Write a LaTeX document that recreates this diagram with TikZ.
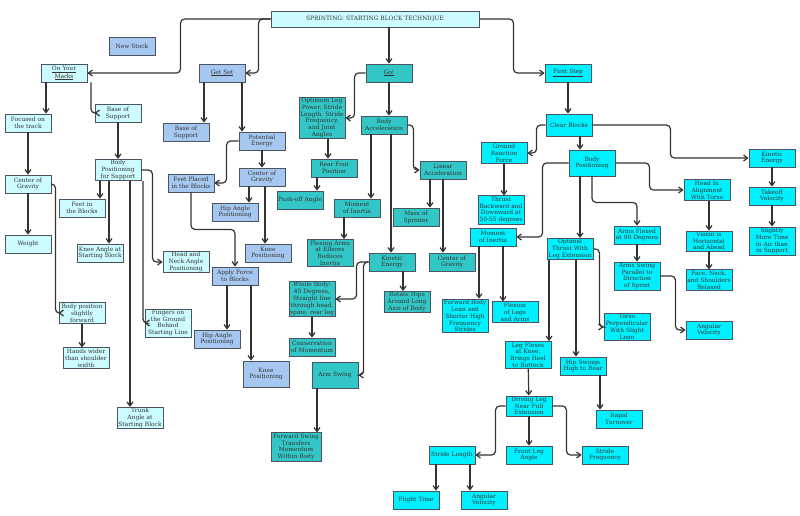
\documentclass[tikz,border=0pt]{standalone}
\usepackage{fontspec}
\setmainfont{DejaVu Serif}
\usetikzlibrary{arrows.meta}
\usetikzlibrary{positioning}
\definecolor{omk}{HTML}{CCFCFF}
\definecolor{gset}{HTML}{A6C8F0}
\definecolor{gogo}{HTML}{33C6C6}
\definecolor{fst}{HTML}{00F0FF}
\definecolor{edge}{HTML}{4A5560}
\hyphenpenalty=10000
\exhyphenpenalty=10000
\begin{document}
\begin{tikzpicture}[x=1pt,y=-1pt]
\tikzset{box/.style={rectangle,draw=edge,line width=0.9pt,align=center,text width=44pt,inner sep=1pt,minimum height=18pt,font=\fontsize{5.9}{6.8}\selectfont,text=black!80},
omkbox/.style={box,fill=omk},gsetbox/.style={box,fill=gset},gobox/.style={box,fill=gogo},fstbox/.style={box,fill=fst},
link/.style={draw=black!80,line width=1.2pt,rounded corners=4pt,-{Straight Barb[length=4pt,width=6pt]}}}
\useasboundingbox (0,0) rectangle (800,515);
\node[omkbox,text width=206pt,minimum height=16pt](title) at (375,19){SPRINTING: STARTING BLOCK TECHNIQUE};
\node[gsetbox](stock) at (132,46){New Stock};
% on your marks
\node[omkbox](oym) at (64,73){\underline{On Your}\\[1pt]\underline{Marks}};
\node[omkbox](focus) at (28,123){Focused on the track};
\node[omkbox](base) at (118,113){Base of Support};
\node[omkbox](cog) at (28,184){Center of Gravity};
\node[omkbox](bsup) at (118,170){Body Positioning for Support};
\node[omkbox](feet) at (82,208){Feet in the Blocks};
\node[omkbox](weight) at (28,244){Weight};
\node[omkbox](knee) at (100,253){Knee Angle at Starting Block};
\node[omkbox](head) at (186,262){Head and Neck Angle Positioning};
\node[omkbox](bpos) at (82,313){Body position slightly forward};
\node[omkbox](hands) at (86,358){Hands wider than shoulder width};
\node[omkbox](fing) at (168,323){Fingers on the Ground Behind Starting Line};
\node[omkbox](trunk) at (140,418){Trunk Angle at Starting Block};
% get set
\node[gsetbox](gs) at (222,73){\underline{Get Set}};
\node[gsetbox](gbase) at (186,132){Base of Support};
\node[gsetbox](pot) at (262,141){Potential Energy};
\node[gsetbox](fplace) at (191,183){Feet Placed in the Blocks};
\node[gsetbox](gcog) at (262,177){Center of Gravity};
\node[gsetbox](ghip) at (235,212){Hip Angle Positioning};
\node[gsetbox](gknee) at (268,253){Knee Positioning};
\node[gsetbox](apply) at (235,276){Apply Force to Blocks};
\node[gsetbox](ahip) at (217,339){Hip Angle Positioning};
\node[gsetbox,minimum height=26pt](aknee) at (266,374){Knee Positioning};
% go
\node[gobox](go) at (389,73){\underline{Go!}};
\node[gobox](opt) at (322,118){Optimum Leg Power, Stride Length, Stride Frequency, and Joint Angles};
\node[gobox](bacc) at (384,125){Body Acceleration};
\node[gobox](rear) at (334,168){Rear Foot Position};
\node[gobox](push) at (300,200){Push-off Angle};
\node[gobox](lin) at (443,170){Linear Acceleration};
\node[gobox](moi) at (357,208){Moment of Inertia};
\node[gobox](mass) at (416,217){Mass of Sprinter};
\node[gobox](flex) at (330,253){Flexing Arms at Elbows Reduces Inertia};
\node[gobox](ke) at (392,262){Kinetic Energy};
\node[gobox](lcog) at (452,262){Center of Gravity};
\node[gobox](whole) at (312,299){Whole Body: 45 Degrees, Straight line through head, spine, rear leg};
\node[gobox](rot) at (407,302){Rotate Hips Around Long Axis of Body};
\node[gobox](cons) at (312,347){Conservation of Momentum};
\node[gobox,minimum height=26pt](arm) at (335,375){Arm Swing};
\node[gobox,text width=48pt](fwd) at (296,447){Forward Swing Transfers Momentum Within Body};
% first step
\node[fstbox](fs) at (568,73){\underline{First Step}};
\node[fstbox,minimum height=22pt](clear) at (569,125){Clear Blocks};
\node[fstbox](grf) at (504,153){Ground Reaction Force};
\node[fstbox,minimum height=26pt](bp) at (592,163){Body Positioning};
\node[fstbox](fke) at (772,158){Kinetic Energy};
\node[fstbox](thr) at (501,210){Thrust Backward and Downward at 50-55 degrees};
\node[fstbox](hal) at (707,190){Head In Alignment With Torso};
\node[fstbox](tov) at (772,196){Takeoff Velocity};
\node[fstbox](fmoi) at (493,237){Moment of Inertia};
\node[fstbox](othr) at (570,249){Optimal Thrust With Leg Extension};
\node[fstbox](a90) at (637,235){Arms Flexed at 90 Degrees};
\node[fstbox](vis) at (709,241){Vision is Horizontal and Ahead};
\node[fstbox](air) at (772,241){Slightly More Time in Air than in Support};
\node[fstbox](aswing) at (637,276){Arms Swing Parallel to Direction of Sprint};
\node[fstbox](face) at (709,280){Face, Neck, and Shoulders Relaxed};
\node[fstbox](lean) at (465,316){Forward Body Lean and Shorter High Frequency Strides};
\node[fstbox](flx) at (515,312){Flexion of Legs and Arms};
\node[fstbox](torso) at (627,327){Torso Perpendicular With Slight Lean};
\node[fstbox](av) at (709,330){Angular Velocity};
\node[fstbox](legf) at (528,355){Leg Flexes at Knee, Brings Heel to Buttock};
\node[fstbox](hip) at (583,366){Hip Swings High to Rear};
\node[fstbox](drive) at (529,406){Driving Leg Near Full Extension};
\node[fstbox](rapid) at (619,419){Rapid Turnover};
\node[fstbox](slen) at (452,455){Stride Length};
\node[fstbox](front) at (529,455){Front Leg Angle};
\node[fstbox](sfreq) at (605,455){Stride Frequency};
\node[fstbox](flight) at (416,500){Flight Time};
\node[fstbox](sav) at (484,500){Angular Velocity};
% links from the title
\draw[link](title.west) -- ++(-90,0) |- (oym.east);
\draw[link](title.west) -- ++(-12,0) |- (gs.east);
\draw[link](title.south -| go) -- (go);
\draw[link](title.east) -- ++(34,0) |- (fs.west);
% on your marks links
\draw[link](oym.south -| 46,0) -- (focus.north -| 46,0);
\draw[link](oym.south -| 91,0) |- (base.west);
\draw[link](focus) -- (cog);
\draw[link](cog) -- (weight);
\draw[link](cog.east) -- ++(4,0) |- (bpos.west);
\draw[link](bpos) -- (hands.north -| bpos);
\draw[link](base) -- (bsup);
\draw[link](bsup.south -| 100,0) -- (feet.north -| 100,0);
\draw[link](bsup.south -| 109,0) -- (knee.north -| 109,0);
\draw[link](bsup.south -| 130,0) -- (trunk.north -| 130,0);
\draw[link](bsup.south -| 143,0) |- (fing.west);
\draw[link](bsup.east) -- ++(11,0) |- (head.west);
% get set links
\draw[link](gs.south -| 204,0) -- (gbase.north -| 204,0);
\draw[link](gs.south -| 242,0) -- (pot.north -| 242,0);
\draw[link](pot.west) -- ++(-12,0) |- (fplace.east);
\draw[link](pot) -- (gcog);
\draw[link](gcog.south -| 249,0) -- (ghip.north -| 249,0);
\draw[link](gcog.south -| 265,0) -- (gknee.north -| 265,0);
\draw[link](fplace.south) -- ++(0,37) -| (apply.north);
\draw[link](apply.south -| 227,0) -- (ahip.north -| 227,0);
\draw[link](apply.south -| 251,0) -- (aknee.north -| 251,0);
% go links
\draw[link](go.west) -- ++(-11,0) |- (opt.east);
\draw[link](go) -- (bacc.north -| go);
\draw[link](opt.south -| 328,0) -- (rear.north -| 328,0);
\draw[link](rear.south -| 317,0) -- (push.north -| 317,0);
\draw[link](bacc.south -| 371,0) -- (moi.north -| 371,0);
\draw[link](bacc.south -| 391,0) -- (ke.north -| 391,0);
\draw[link](bacc.east) -- ++(6,0) |- (lin.west);
\draw[link](lin.south -| 430,0) -- (mass.north -| 430,0);
\draw[link](lin.south -| 443,0) -- (lcog.north -| 443,0);
\draw[link](moi.south -| 344,0) -- (flex.north -| 344,0);
\draw[link](ke.west) -- ++(-12,0) |- (whole.east);
\draw[link](ke.west) -- ++(-5,0) |- (arm.east);
\draw[link](ke.south -| 403,0) -- (rot.north -| 403,0);
\draw[link](whole) -- (cons);
\draw[link](arm.south -| 317,0) -- (fwd.north -| 317,0);
% first step links
\draw[link](fs) -- (clear.north -| fs);
\draw[link](clear.west) -- ++(-9,0) |- (grf.east);
\draw[link](clear.south -| 580,0) -- (bp.north -| 580,0);
\draw[link](clear.east) -- ++(78,0) |- (fke.west);
\draw[link](fke) -- (tov);
\draw[link](tov) -- (air);
\draw[link](grf) -- (thr.north -| grf);
\draw[link](bp.west) -- ++(-26,0) |- (fmoi.east);
\draw[link](bp.south -| 580,0) -- (othr.north -| 580,0);
\draw[link](bp.south -| 592,0) |- ++(45,26) -- (a90.north);
\draw[link](bp.east) -- ++(34,0) |- (hal.west);
\draw[link](hal.south -| vis) -- (vis);
\draw[link](vis) -- (face);
\draw[link](a90) -- (aswing);
\draw[link](aswing.east) -- ++(15,0) |- (av.west);
\draw[link](fmoi.south -| 479,0) -- (lean.north -| 479,0);
\draw[link](fmoi.south -| 503,0) -- (flx.north -| 503,0);
\draw[link](othr.south -| 549,0) -- (legf.north -| 549,0);
\draw[link](othr.south -| 576,0) -- (hip.north -| 576,0);
\draw[link](othr.east) -- ++(6,0) |- (torso.west);
\draw[link](hip.south -| 600,0) -- (rapid.north -| 600,0);
\draw[link](legf) -- (drive);
\draw[link](drive.west) -- ++(-10,0) |- (slen.east);
\draw[link](drive) -- (front);
\draw[link](drive.east) -- ++(14,0) |- (sfreq.west);
\draw[link](slen.south -| 436,0) -- (flight.north -| 436,0);
\draw[link](slen.south -| 470,0) -- (sav.north -| 470,0);
\end{tikzpicture}
\end{document}
